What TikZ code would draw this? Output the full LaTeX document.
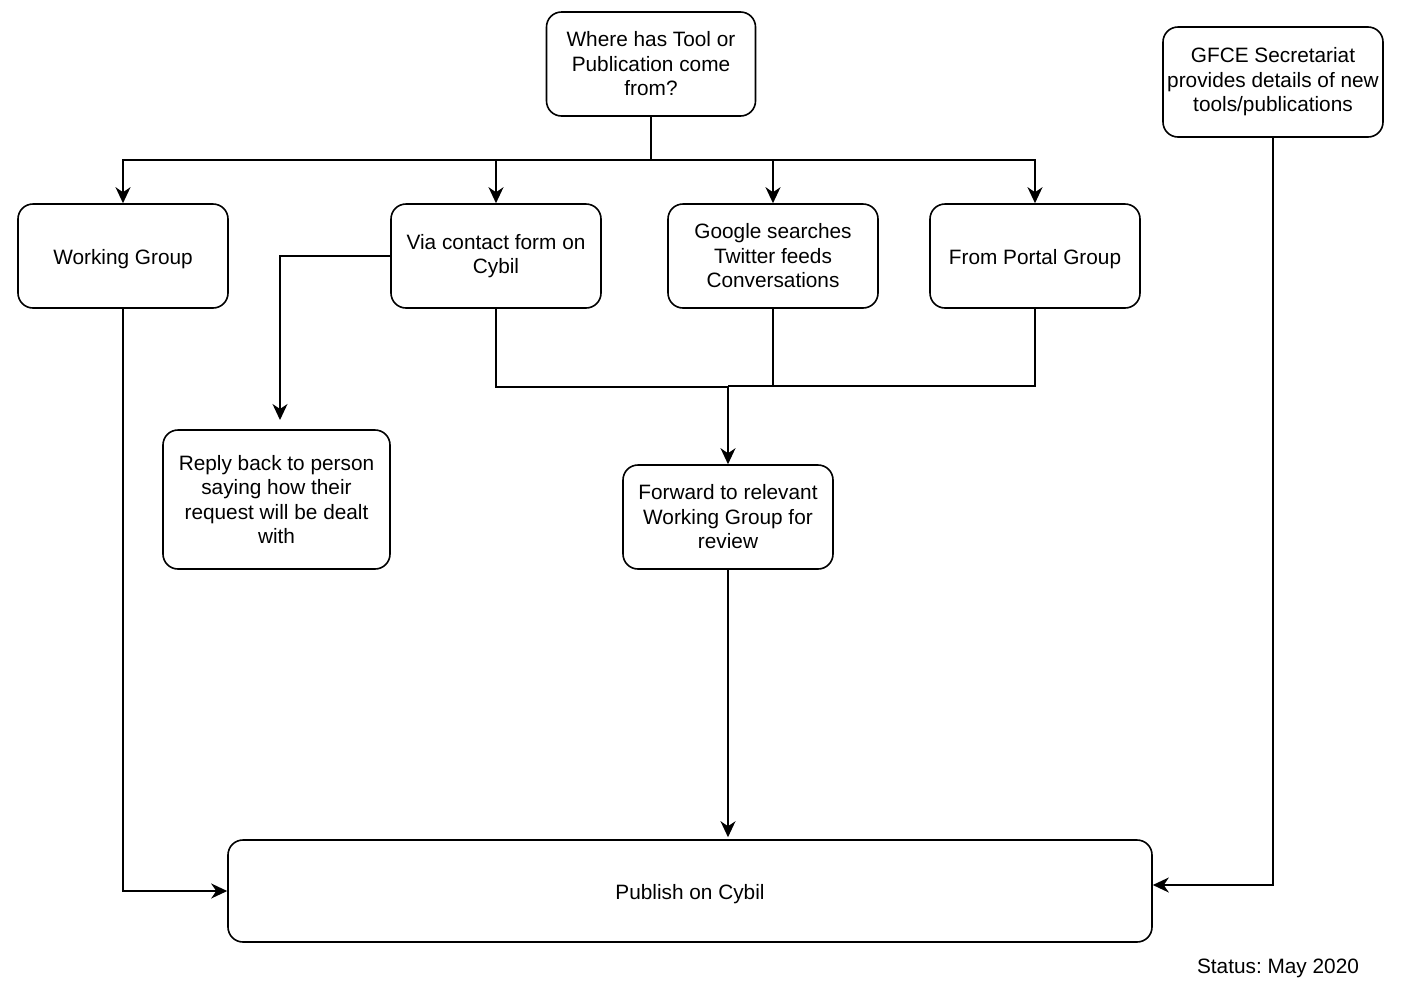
\documentclass[tikz,border=0pt]{standalone}
\usepackage{fontspec}
\setmainfont{Liberation Sans}
\usetikzlibrary{arrows.meta, positioning}
\frenchspacing

\tikzset{
  flowbox/.style={draw, rounded corners=7.5pt, line width=0.8pt, align=center,
    minimum width=105pt, minimum height=52pt, inner sep=1pt,
    font=\fontsize{10.4}{12.25}\selectfont,
    execute at begin node={\rule{0pt}{11pt}}},
  flowline/.style={line width=0.8pt},
  flowarrow/.style={flowline, -{Stealth[length=8pt,width=7.5pt,inset=2.5pt]}},
}

\begin{document}
\begin{tikzpicture}[x=0.5pt, y=-0.5pt]
  \useasboundingbox (0,0) rectangle (1404,1002);

  % Question and secretariat
  \node[flowbox, minimum width=104.5pt] (origin) at (651,64) {Where has Tool or\\Publication come\\from?};
  \node[flowbox, minimum width=110pt, minimum height=55pt] (gfce) at (1273,82) {GFCE Secretariat\\provides details of new\\tools/publications};

  % Sources
  \node[flowbox] (wgroup) at (123,256) {Working Group};
  \node[flowbox] (contact) at (496,256) {Via contact form on\\Cybil};
  \node[flowbox] (search) at (773,256) {Google searches\\Twitter feeds\\Conversations};
  \node[flowbox] (portal) at (1035,256) {From Portal Group};

  % Follow-up
  \node[flowbox, minimum width=113.5pt, minimum height=69.5pt] (reply) at (276.5,499.5) {Reply back to person\\saying how their\\request will be dealt\\with};
  \node[flowbox] (forward) at (728,517) {Forward to relevant\\Working Group for\\review};
  \node[flowbox, minimum width=462pt, minimum height=51pt] (publish) at (690,891) {Publish on Cybil};
  \node[font=\fontsize{10.4}{12.25}\selectfont] (status) at (1278,968) {Status: May 2020};

  % Split from question
  \coordinate (split) at (651,160);
  \draw[flowline] (origin.south) -- (split);
  \foreach \target in {wgroup, contact, search, portal}
    \draw[flowarrow] (split) -| (\target.north);

  % Contact form reply
  \coordinate (replyend) at (280,420);
  \draw[flowarrow] (contact.west) -| (replyend);

  % Merge into forward
  \coordinate (merge) at (728,386);
  \draw[flowline] (contact.south) |- ([yshift=-0.5pt]merge);
  \draw[flowline] (search.south) |- (merge);
  \draw[flowline] (portal.south) |- (merge);
  \draw[flowarrow] (merge) -- (forward.north);

  % Into publish
  \draw[flowarrow] (forward.south) -- ([yshift=1pt]forward.south |- publish.north);
  \draw[flowarrow] (wgroup.south) |- (publish.west);
  \draw[flowarrow] (gfce.south) |- ([yshift=3pt]publish.east);
\end{tikzpicture}
\end{document}
